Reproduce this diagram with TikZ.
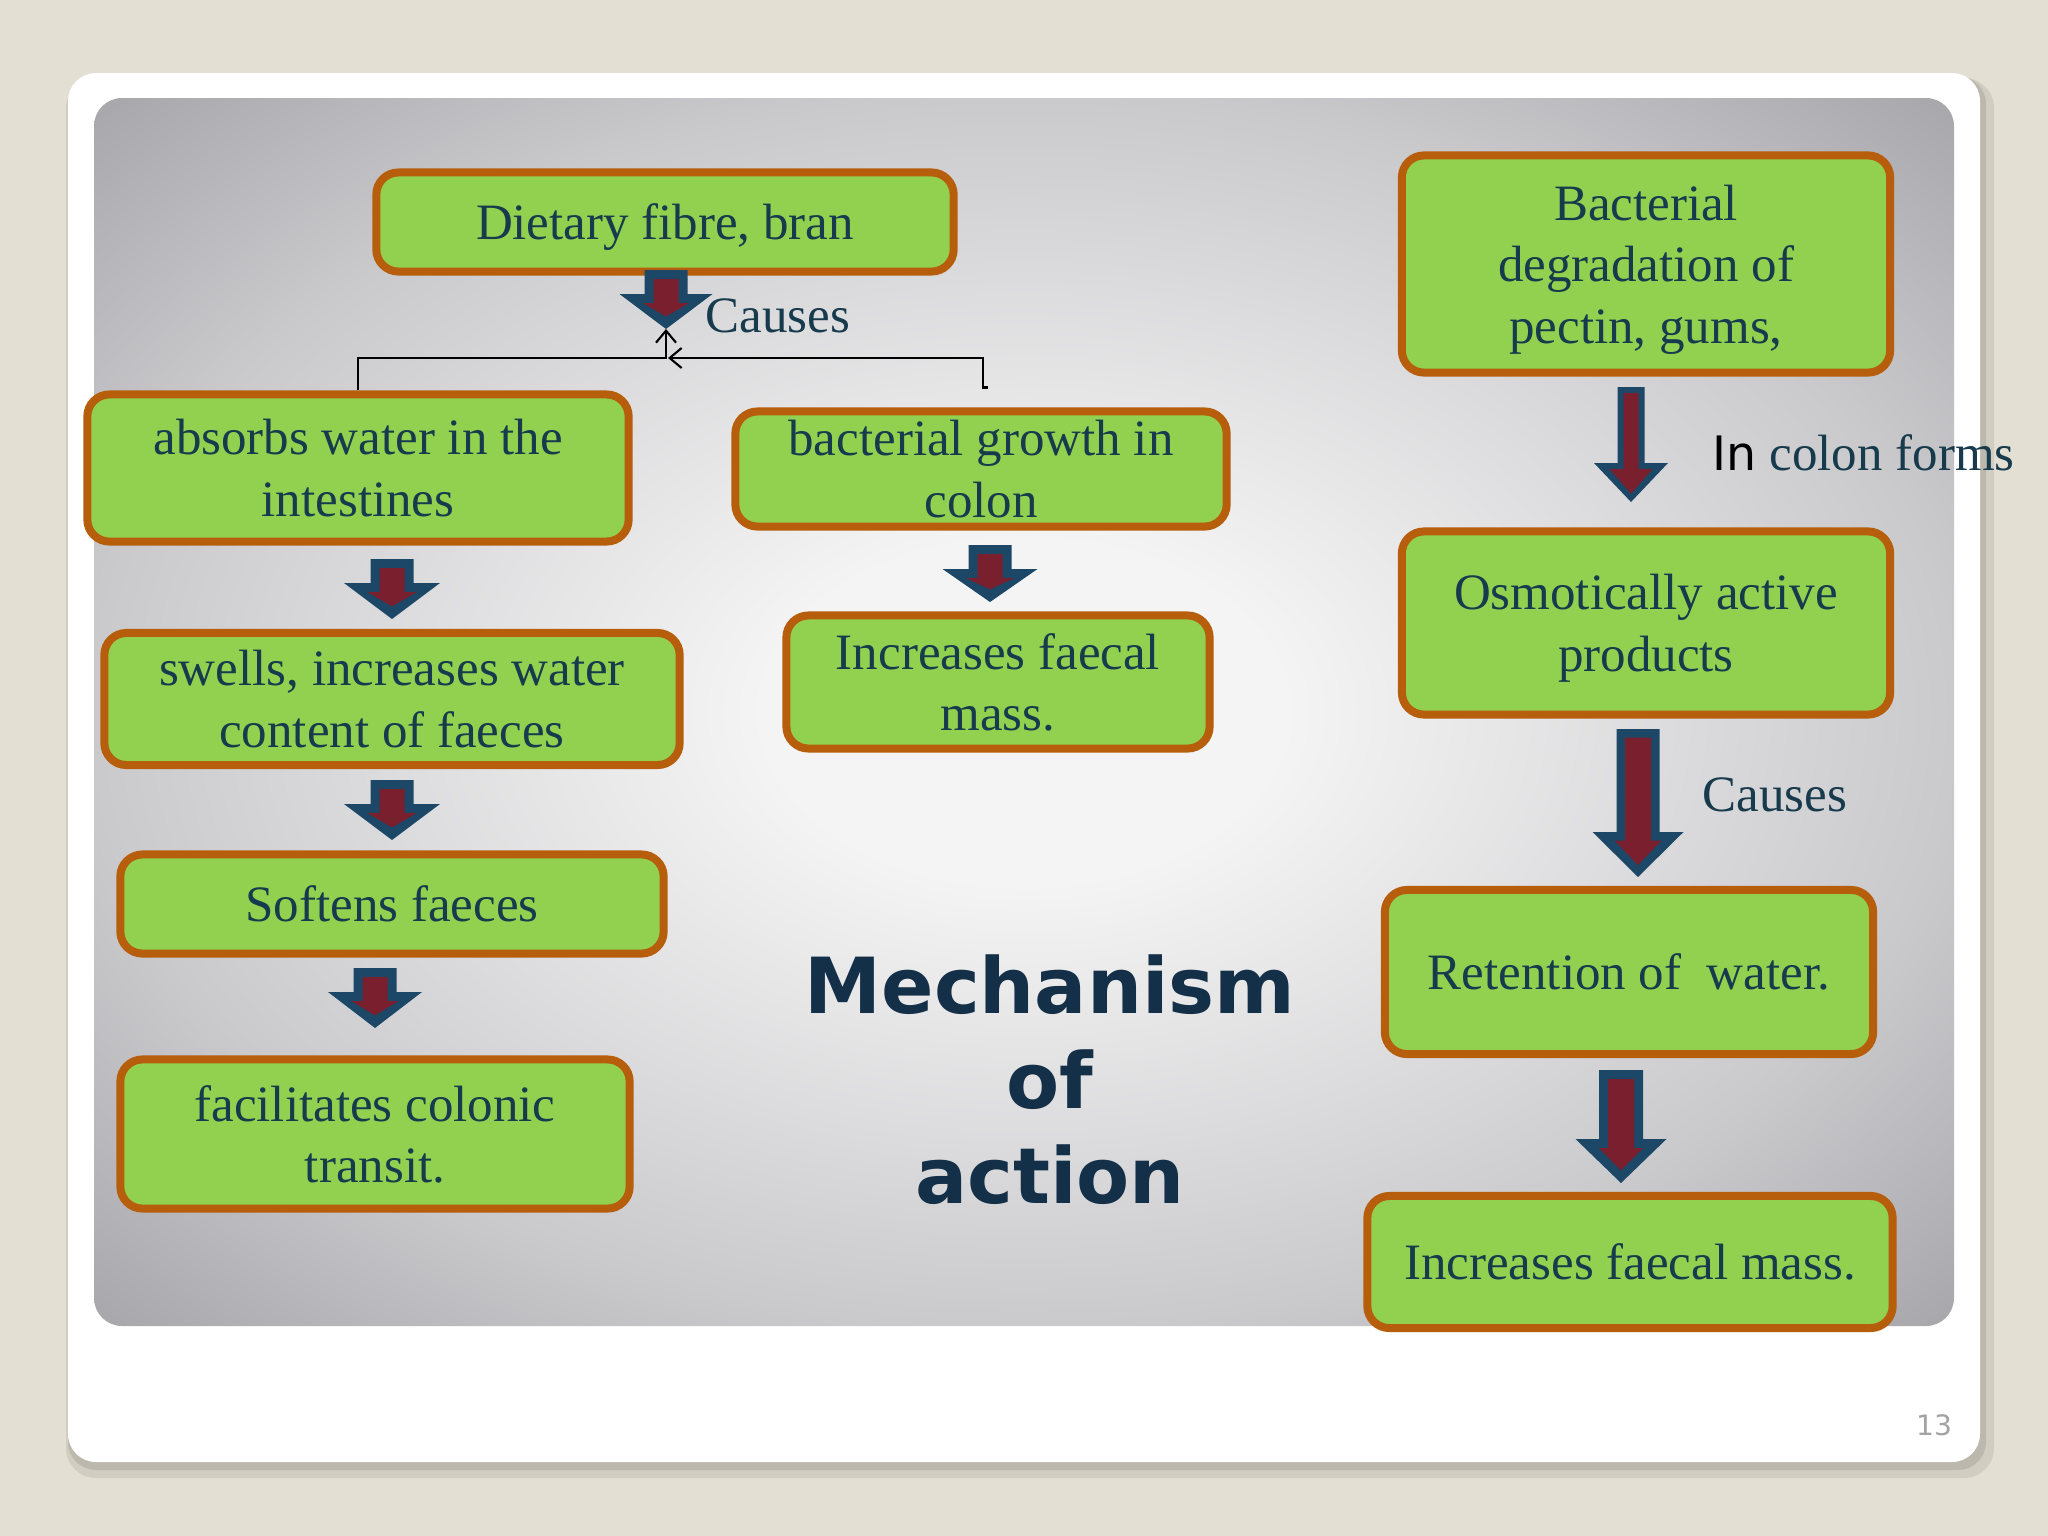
\documentclass[tikz,border=0pt]{standalone}
\usepackage{fontspec}
\setmainfont{Liberation Serif}
\newfontfamily\titlefont{DejaVu Sans}
\usetikzlibrary{arrows.meta, positioning, calc}
\definecolor{pagebg}{HTML}{E3DFD3}
\definecolor{cardshadow}{HTML}{A9A59A}
\definecolor{panelmid}{HTML}{F4F4F4}
\definecolor{panelside}{HTML}{CACACD}
\definecolor{panelcorner}{HTML}{A5A4A9}
\definecolor{boxfill}{HTML}{92D050}
\definecolor{boxedge}{HTML}{B65E0C}
\definecolor{inktext}{HTML}{173B4C}
\definecolor{arrblue}{HTML}{1C4766}
\definecolor{arrred}{HTML}{7A1F2D}
\definecolor{titleink}{HTML}{142F48}
\definecolor{pnumgray}{HTML}{A3A3A3}
\newcommand{\boxfont}{\fontsize{14.5pt}{17.5pt}\selectfont}
\pgfdeclareradialshading{panelshade}{\pgfpoint{0bp}{0bp}}{color(0bp)=(panelmid); color(7bp)=(panelmid); color(25bp)=(panelside); color(36bp)=(panelcorner); color(50bp)=(panelcorner)}
% block arrow: cx, top, neck, tip, shaft half, head half, border
\newcommand{\blockarrow}[7]{%
  \fill[arrblue] (#1-#5,#2) -- (#1+#5,#2) -- (#1+#5,#3) -- (#1+#6,#3) -- (#1,#4) -- (#1-#6,#3) -- (#1-#5,#3) -- cycle;
  \fill[arrred] (#1-#5+#7,#2+#7) -- (#1+#5-#7,#2+#7) -- (#1+#5-#7,#3+#7) -- (#1+#6-2.6*#7,#3+#7) -- (#1,#4-1.4*#7) -- (#1-#6+2.6*#7,#3+#7) -- (#1-#5+#7,#3+#7) -- cycle;}

\begin{document}
\begin{tikzpicture}[x=0.01cm, y=-0.01cm,
  box/.style={rectangle, rounded corners=0.22cm, draw=boxedge, fill=boxfill, line width=0.08cm, text=inktext, font=\boxfont, align=center, inner sep=0pt, text depth=-0.1cm},
  lbl/.style={text=inktext, font=\boxfont, inner sep=0pt},
  title/.style={text=titleink, font=\titlefont\bfseries\fontsize{22pt}{27pt}\selectfont, align=center, inner sep=0pt},
  link/.style={draw=black, line width=0.6pt, -{Straight Barb[length=0.12cm, width=0.2cm]}},
]
  % slide background
  \useasboundingbox (0,0) rectangle (2048,1536);
  \fill[pagebg] (0,0) rectangle (2048,1536);
  \fill[cardshadow, opacity=0.3, rounded corners=0.3cm] (66,78) rectangle (1994,1478);
  \fill[cardshadow, opacity=0.5, rounded corners=0.28cm] (68,76) rectangle (1986,1470);
  \fill[white, rounded corners=0.28cm] (68,73) rectangle (1980,1462);
  \shade[shading=panelshade, rounded corners=0.28cm] (94,98) rectangle (1954,1326);

  % left and middle columns
  \node[box, minimum width=5.77cm, minimum height=0.99cm] (diet) at (665,222) {Dietary fibre, bran};
  \node[box, minimum width=5.41cm, minimum height=1.47cm] (absorb) at (358,468) {absorbs water in the\\intestines};
  \node[box, minimum width=4.91cm, minimum height=1.15cm] (growth) at (981,469) {bacterial growth in\\colon};
  \node[box, minimum width=5.75cm, minimum height=1.32cm] (swell) at (392,699) {swells, increases water\\content of faeces};
  \node[box, minimum width=4.23cm, minimum height=1.33cm] (massmid) at (998,682) {Increases faecal\\mass.};
  \node[box, minimum width=5.43cm, minimum height=0.99cm] (soften) at (392,904) {Softens faeces};
  \node[box, minimum width=5.09cm, minimum height=1.49cm] (transit) at (375,1134) {facilitates colonic\\transit.};

  % right column
  \node[box, minimum width=4.88cm, minimum height=2.17cm] (degrade) at (1646,264) {Bacterial\\degradation of\\pectin, gums,};
  \node[box, minimum width=4.88cm, minimum height=1.83cm] (osmotic) at (1646,623) {Osmotically active\\products};
  \node[box, minimum width=4.88cm, minimum height=1.64cm] (retain) at (1629,972) {Retention of~ water.};
  \node[box, minimum width=5.25cm, minimum height=1.32cm] (massright) at (1630,1262) {Increases faecal mass.};

  % block arrows
  \blockarrow{666}{270}{294}{329}{21.5}{46.5}{9}
  \blockarrow{392}{559}{583}{619}{21.5}{48}{9}
  \blockarrow{392}{780}{804}{840}{21.5}{48}{9}
  \blockarrow{375}{968}{992}{1028}{21.5}{47}{9}
  \blockarrow{990}{545}{569}{602}{21.5}{47.5}{9}
  \blockarrow{1631}{387}{463}{502}{13.5}{37}{6}
  \blockarrow{1638}{729}{832}{877}{21.5}{45.5}{8.5}
  \blockarrow{1621}{1070}{1139}{1183}{22}{45.5}{9}

  % bracket to the first arrow
  \coordinate (causetip) at (666,329);
  \coordinate (join) at (666,358);
  \coordinate (footR) at ([xshift=0.07cm, yshift=0.2cm]growth.north);
  \draw[link] (absorb.north) |- (join) -- (causetip);
  \draw[link] (footR) -- ++(-5,0) |- ([xshift=0.02cm]join);

  % labels
  \node[lbl, anchor=west] (causetop) at (705,316) {Causes};
  \node[lbl, anchor=west] (incolon) at (1712,453) {{\titlefont\fontsize{13.5pt}{16pt}\selectfont\color{black}In} colon forms};
  \node[lbl, anchor=west] (causeright) at (1702,795) {Causes};

  \node[title] (mech) at (1050,1080) {Mechanism\\of\\action};
  \node[text=pnumgray, font=\titlefont\fontsize{8pt}{10pt}\selectfont, inner sep=0pt] (pnum) at (1934,1425) {13};
\end{tikzpicture}
\end{document}
